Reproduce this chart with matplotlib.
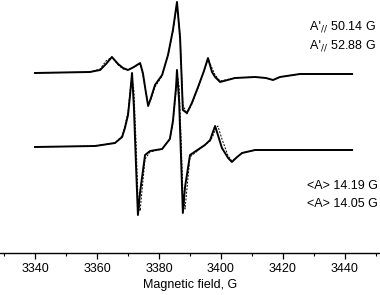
import matplotlib
matplotlib.use("Agg")
import matplotlib.pyplot as plt
from matplotlib.ticker import MultipleLocator

plt.rcParams['font.family'] = ['Liberation Sans', 'DejaVu Sans']

# upper spectrum - field in G, intensity in arb. units
top_field = [3340.0, 3357.7, 3361.0, 3362.9, 3364.8, 3366.8, 3368.4, 3370.0, 3371.9,
             3373.9, 3374.8, 3375.8, 3376.5, 3377.4, 3378.7, 3381.0, 3382.9, 3384.5,
             3385.8, 3386.8, 3387.7, 3389.0, 3390.6, 3392.6, 3394.5, 3395.8, 3397.1,
             3398.1, 3399.7, 3404.5, 3411.0, 3414.5, 3416.8, 3419.0, 3425.5, 3442.3]
top_exp = [0, 1, 3, 9, 16, 9, 5, 3, 6,
           10, 0, -20, -33, -25, -12, -2, 18, 43,
           71, 35, -37, -40, -30, -14, 2, 15, 1,
           -4, -9, -5, -4, -5, -7, -4, -1, -1]
top_sim = [0, 1, 4, 12, 16, 8, 4, 3, 6,
           9, -2, -20, -31, -26, -14, -3, 17, 42,
           69, 38, -32, -41, -31, -15, 2, 14, 5,
           -2, -8, -5, -4, -5, -7, -4, -1, -1]

# lower spectrum
bot_field = [3340.0, 3359.4, 3365.8, 3368.1, 3369.0, 3370.0, 3370.6, 3371.3, 3371.9,
             3372.6, 3373.2, 3373.9, 3375.5, 3377.1, 3381.0, 3383.5, 3384.5, 3385.5,
             3385.8, 3386.5, 3387.1, 3387.7, 3388.4, 3390.0, 3394.8, 3396.5, 3397.4,
             3398.1, 3399.0, 3400.3, 3402.3, 3403.5, 3405.2, 3406.8, 3411.0, 3415.8, 3442.3]
bot_exp = [0, 1, 4, 10, 19, 32, 50, 74, 40,
           -20, -68, -45, -8, -4, -2, 8, 26, 60,
           77, 45, -10, -66, -40, -8, 2, 7, 15,
           21, 12, -1, -11, -15, -10, -6, -3, -3, -3]
bot_sim = [0, 1, 4, 11, 21, 35, 54, 70, 56,
           5, -50, -64, -12, -5, -2, 8, 24, 56,
           74, 60, 10, -45, -62, -10, 2, 6, 11,
           17, 21, 8, -9, -14, -10, -6, -3, -3, -3]

top_offset = 180
bot_offset = 106

fig = plt.figure(figsize=(3.8, 2.95), dpi=100)
ax = fig.add_axes([0, 0.1424, 1, 0.8576])

ax.plot(top_field, [v + top_offset for v in top_exp], color='black', lw=1.4)
ax.plot(top_field, [v + top_offset for v in top_sim], color='black', lw=0.7, ls=(0, (2, 1.5)))
ax.plot(bot_field, [v + bot_offset for v in bot_exp], color='black', lw=1.4)
ax.plot(bot_field, [v + bot_offset for v in bot_sim], color='black', lw=0.7, ls=(0, (2, 1.5)))

ax.set_xlim(3328.7, 3451.3)
ax.set_ylim(0, 253)

for s in ['left', 'right', 'top']:
    ax.spines[s].set_visible(False)
ax.spines['bottom'].set_linewidth(1.0)
ax.set_yticks([])
ax.xaxis.set_major_locator(MultipleLocator(20))
ax.xaxis.set_minor_locator(MultipleLocator(10))
ax.set_xticks(range(3340, 3441, 20))
ax.tick_params(axis='x', which='major', length=4, width=0.9, labelsize=9, pad=3)
ax.tick_params(axis='x', which='minor', length=2.5, width=0.8)
ax.set_xlabel('Magnetic field, G', fontsize=9, labelpad=3)

kw = dict(transform=ax.transAxes, ha='right', va='center', fontsize=9)
ax.text(0.99, 1 - 27 / 253, r"A$'_{//}$ 50.14 G", **kw)
ax.text(0.99, 1 - 46 / 253, r"A$'_{//}$ 52.88 G", **kw)
ax.text(0.995, 1 - 186 / 253, "<A> 14.19 G", **kw)
ax.text(0.995, 1 - 204 / 253, "<A> 14.05 G", **kw)

fig.savefig('out.png', dpi=100)
